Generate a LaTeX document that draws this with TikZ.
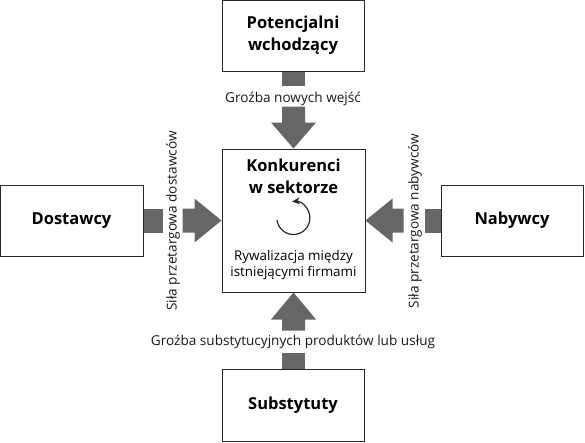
\documentclass[tikz,border=0pt]{standalone}
\usepackage{fontspec}
\setmainfont{Open Sans}
\usetikzlibrary{calc,arrows.meta}
\definecolor{arrgray}{RGB}{102,102,102}
\definecolor{boxline}{RGB}{40,40,40}
\tikzset{
  box/.style={draw=boxline, line width=1pt, fill=white, inner sep=0pt, align=center,
    font=\fontsize{16.5}{22}\selectfont\bfseries},
  blockarrow/.style={fill=arrgray, draw=none},
  lbl/.style={font=\fontsize{13.6}{16}\selectfont, inner sep=1pt, text=black!90},
  inner/.style={font=\fontsize{13.4}{16}\selectfont, align=center, inner sep=0pt}
}
\begin{document}
\begin{tikzpicture}[x=1pt,y=-1pt]
\useasboundingbox[fill=white] (0,0) rectangle (585,442);
% boxes
\node[box, minimum width=142pt, minimum height=71pt] (pot) at (293,35.5) {Potencjalni\\wchodzący};
\node[box, minimum width=143pt, minimum height=143pt] (kon) at (293.5,220.5) {};
\node[box, minimum width=143pt, minimum height=71pt] (dos) at (71.5,220.5) {Dostawcy};
\node[box, minimum width=142pt, minimum height=71pt] (nab) at (512,220.5) {Nabywcy};
\node[box, minimum width=142pt, minimum height=72pt] (sub) at (293,405) {Substytuty};
% center contents
\node[box, draw=none, fill=none] (kontitle) at (293.5,176) {Konkurenci\\w sektorze};
\node[inner] (ryw) at (293.5,265) {Rywalizacja między\\istniejącymi firmami};
\coordinate (rc) at (293.5,222);
\draw[line width=1.2pt, boxline, -{Stealth[length=8pt,width=7pt]}] ($(rc)+(-16.5,-2)$) arc[start angle=187, end angle=455, radius=16.5pt];
% top: stub and arrow
\fill[blockarrow] ($(pot.south)+(-11.5,0)$) rectangle ($(pot.south)+(11.5,14)$);
\fill[blockarrow] (kon.north) -- ($(kon.north)+(-22.5,-26)$) -- ($(kon.north)+(-11.5,-26)$) -- ($(kon.north)+(-11.5,-42)$)
  -- ($(kon.north)+(11.5,-42)$) -- ($(kon.north)+(11.5,-26)$) -- ($(kon.north)+(22.5,-26)$) -- cycle;
\node[lbl] (lt) at (293,99) {Groźba nowych wejść};
% bottom
\fill[blockarrow] ($(sub.north)+(-11.5,0)$) rectangle ($(sub.north)+(11.5,-16)$);
\fill[blockarrow] (kon.south) -- ($(kon.south)+(-22.5,27)$) -- ($(kon.south)+(-11.5,27)$) -- ($(kon.south)+(-11.5,38)$)
  -- ($(kon.south)+(11.5,38)$) -- ($(kon.south)+(11.5,27)$) -- ($(kon.south)+(22.5,27)$) -- cycle;
\node[lbl] (lb) at (293,342) {Groźba substytucyjnych produktów lub usług};
% left
\fill[blockarrow] ($(dos.east)+(0,-12)$) rectangle ($(dos.east)+(19,12)$);
\fill[blockarrow] (kon.west) -- ($(kon.west)+(-27,-22)$) -- ($(kon.west)+(-27,-12)$) -- ($(kon.west)+(-39,-12)$)
  -- ($(kon.west)+(-39,12)$) -- ($(kon.west)+(-27,12)$) -- ($(kon.west)+(-27,22)$) -- cycle;
\node[lbl, rotate=90] (ll) at (173,221) {Siła przetargowa dostawców};
% right
\fill[blockarrow] ($(nab.west)+(0,-12)$) rectangle ($(nab.west)+(-16,12)$);
\fill[blockarrow] (kon.east) -- ($(kon.east)+(27,-22)$) -- ($(kon.east)+(27,-12)$) -- ($(kon.east)+(38,-12)$)
  -- ($(kon.east)+(38,12)$) -- ($(kon.east)+(27,12)$) -- ($(kon.east)+(27,22)$) -- cycle;
\node[lbl, rotate=90] (lr) at (415,221) {Siła przetargowa nabywców};
\end{tikzpicture}
\end{document}
